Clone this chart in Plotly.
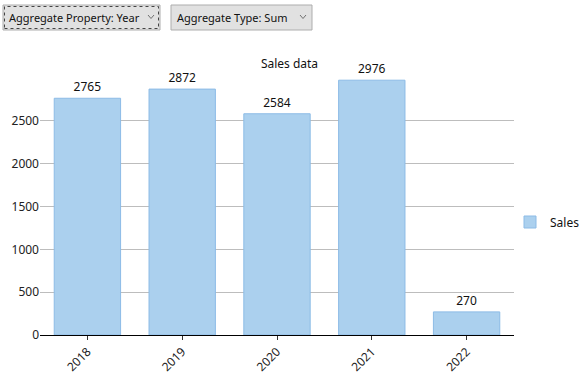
import plotly.graph_objects as go

years = ["2018", "2019", "2020", "2021", "2022"]
sales = [2765, 2872, 2584, 2976, 270]
series_name = "Sales"
chart_title = "Sales data"
dropdown_labels = ["Aggregate Property: Year", "Aggregate Type: Sum"]

W, H = 579, 372
L, R, T, B = 40, 65, 79, 37
PW, PH = W - L - R, H - T - B


def px_x(x):
    return (x - L) / PW


def px_y(y):
    return (H - B - y) / PH


FONT = "Segoe UI, Noto Sans, Open Sans, sans-serif"
TXT = "#111111"

fig = go.Figure()
fig.add_trace(go.Bar(
    x=years, y=sales, name=series_name,
    text=[str(v) for v in sales], textposition="outside",
    textfont=dict(size=12, color=TXT, family=FONT),
    marker=dict(color="#abd0ee", line=dict(color="#8cbbe6", width=1)),
    cliponaxis=False, showlegend=True,
))

# dropdown-like boxes (left px, right px)
boxes = [(3, 160), (171, 312)]
top_px, bot_px = 5, 30
annotations = []
shapes = []
for (x0, x1), label in zip(boxes, dropdown_labels):
    shapes.append(dict(type="rect", xref="paper", yref="paper",
                       x0=px_x(x0), x1=px_x(x1), y0=px_y(bot_px), y1=px_y(top_px),
                       fillcolor="#e1e1e1", line=dict(color="#adadad", width=1), layer="above"))
    annotations.append(dict(text=label, xref="paper", yref="paper",
                            x=px_x(x0 + 4), xanchor="left",
                            y=px_y((top_px + bot_px) / 2), yanchor="middle",
                            showarrow=False, font=dict(size=11, color=TXT, family=FONT)))
    cx = x1 - 9
    shapes.append(dict(type="path", xref="paper", yref="paper",
                       path=(f"M{px_x(cx - 3)},{px_y(15)} L{px_x(cx)},{px_y(18.5)} "
                             f"L{px_x(cx + 3)},{px_y(15)}"),
                       line=dict(color="#707070", width=1), layer="above"))
# focus rectangle on first box
shapes.append(dict(type="rect", xref="paper", yref="paper",
                   x0=px_x(4.5), x1=px_x(158.5), y0=px_y(28.5), y1=px_y(6.5),
                   line=dict(color="#444444", width=1, dash="dot"), layer="above"))

fig.update_layout(
    width=W, height=H,
    margin=dict(l=L, r=R, t=T, b=B, autoexpand=False),
    paper_bgcolor="white", plot_bgcolor="white",
    font=dict(family=FONT, size=12, color=TXT),
    bargap=0.3,
    title=dict(text=chart_title, x=0.5, xref="container", xanchor="center",
               y=1 - 64 / H, yref="container", yanchor="middle",
               font=dict(size=12, color=TXT, family=FONT)),
    showlegend=True,
    legend=dict(x=px_x(510), xanchor="left", y=px_y(222), yanchor="middle",
                font=dict(size=12, color=TXT, family=FONT),
                bgcolor="rgba(0,0,0,0)", borderwidth=0),
    xaxis=dict(type="category", showgrid=False, showline=True, linecolor="#000000",
               linewidth=1, ticks="outside", ticklen=4, tickcolor="#333333",
               tickangle=-45, tickfont=dict(size=12, color="#222222")),
    yaxis=dict(range=[0, 2990], dtick=500, showgrid=True, gridcolor="#bdbdbd",
               gridwidth=1, showline=False, zeroline=False, ticks="",
               tickfont=dict(size=12, color="#222222")),
    shapes=shapes,
    annotations=annotations,
)

fig.write_html("out.html", config={"displayModeBar": False},
               post_script="document.body.style.margin='0';")
